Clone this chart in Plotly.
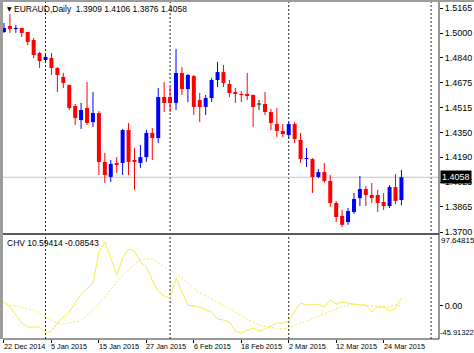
import plotly.graph_objects as go

# ---------------- data ----------------
opens = [1.5008, 1.5047, 1.5028, 1.5034, 1.5008, 1.4956, 1.4871, 1.4825, 1.4838, 1.4773,
         1.4714, 1.4661, 1.4524, 1.4432, 1.4511, 1.4419, 1.4478, 1.4158, 1.4060, 1.4151,
         1.4151, 1.4367, 1.4171, 1.4151, 1.4190, 1.4348, 1.4315, 1.4583, 1.4583, 1.4544,
         1.4740, 1.4635, 1.4720, 1.4563, 1.4518, 1.4576, 1.4694, 1.4746, 1.4668, 1.4616,
         1.4603, 1.4603, 1.4596, 1.4537, 1.4537, 1.4485, 1.4406, 1.4361, 1.4334, 1.4406,
         1.4302, 1.4177, 1.4177, 1.4060, 1.4092, 1.4034, 1.3890, 1.3805, 1.3765, 1.3831,
         1.3922, 1.3981, 1.3942, 1.3942, 1.3896, 1.3870, 1.3994, 1.3909]
highs = [1.5067, 1.5126, 1.5054, 1.5036, 1.5010, 1.4969, 1.4877, 1.4871, 1.4871, 1.4779,
         1.4740, 1.4664, 1.4537, 1.4544, 1.4681, 1.4616, 1.4491, 1.4217, 1.4171, 1.4190,
         1.4374, 1.4413, 1.4249, 1.4269, 1.4367, 1.4380, 1.4642, 1.4681, 1.4648, 1.4897,
         1.4779, 1.4733, 1.4727, 1.4609, 1.4596, 1.4707, 1.4812, 1.4792, 1.4694, 1.4642,
         1.4622, 1.4740, 1.4600, 1.4563, 1.4616, 1.4504, 1.4511, 1.4406, 1.4419, 1.4419,
         1.4348, 1.4249, 1.4184, 1.4112, 1.4151, 1.4073, 1.3903, 1.3844, 1.3857, 1.3955,
         1.4066, 1.4001, 1.4021, 1.3975, 1.3955, 1.4007, 1.4079, 1.4106]
lows = [1.5002, 1.5002, 1.5002, 1.4975, 1.4923, 1.4838, 1.4773, 1.4812, 1.4727, 1.4616,
        1.4642, 1.4498, 1.4400, 1.4374, 1.4400, 1.4387, 1.4073, 1.4021, 1.4027, 1.4086,
        1.4073, 1.4073, 1.3975, 1.4119, 1.4158, 1.4171, 1.4282, 1.4485, 1.4485, 1.4498,
        1.4596, 1.4550, 1.4465, 1.4419, 1.4465, 1.4550, 1.4648, 1.4648, 1.4583, 1.4544,
        1.4550, 1.4563, 1.4387, 1.4498, 1.4465, 1.4367, 1.4321, 1.4321, 1.4315, 1.4282,
        1.4151, 1.4125, 1.3955, 1.4053, 1.4021, 1.3864, 1.3765, 1.3733, 1.3747, 1.3818,
        1.3870, 1.3870, 1.3890, 1.3831, 1.3844, 1.3857, 1.3883, 1.3876]
closes = [1.5034, 1.5028, 1.5034, 1.5002, 1.4943, 1.4858, 1.4818, 1.4845, 1.4773, 1.4727,
          1.4675, 1.4511, 1.4446, 1.4498, 1.4413, 1.4478, 1.4158, 1.4073, 1.4145, 1.4138,
          1.4367, 1.4158, 1.4158, 1.4190, 1.4348, 1.4315, 1.4583, 1.4544, 1.4544, 1.4740,
          1.4635, 1.4727, 1.4518, 1.4518, 1.4576, 1.4694, 1.4746, 1.4675, 1.4609, 1.4603,
          1.4596, 1.4589, 1.4518, 1.4537, 1.4485, 1.4413, 1.4361, 1.4341, 1.4406, 1.4308,
          1.4177, 1.4184, 1.4060, 1.4092, 1.4034, 1.3890, 1.3798, 1.3747, 1.3837, 1.3916,
          1.3981, 1.3942, 1.3922, 1.3890, 1.3870, 1.3994, 1.3903, 1.4058]

# CHV indicator values for bars -1 .. 67
chv_main = [6.5, 5.1, -1.8, -12.8, -23.9, -29.4, -29.4, -29.4, -37.7, -34.9,
            -23.9, -16.8, -8.7, 3.7, 16.2, 23.1, 31.3, 74.0, 87.9, 65.8,
            42.4, 65.8, 78.3, 75.5, 60.3, 53.4, 35.5, 20.3, 13.4, 10.6,
            38.2, 18.9, 1.0, -0.4, -1.8, -5.9, -8.7, -18.4, -19.7, -22.5,
            -34.9, -37.7, -33.5, -30.8, -34.9, -32.2, -28.0, -23.9, -23.9, -21.1,
            -7.3, 3.7, 1.0, 1.0, 2.3, -1.8, 7.9, 2.3, 5.1, 3.7,
            2.3, 1.0, 1.0, -8.7, -1.8, -1.8, -7.3, -3.2, 10.59414]
chv_signal = [5.1, 3.7, 1.0, -0.4, -1.8, -4.6, -5.9, -10.1, -15.6, -19.7,
              -23.9, -25.3, -23.9, -22.5, -20.7, -13.4, -5.9, 2.5, 12.8, 23.2,
              32.4, 41.4, 49.7, 57.3, 63.5, 64.9, 64.5, 58.9, 53.4, 48.7,
              44.2, 38.2, 31.3, 24.4, 17.8, 13.7, 9.5, 5.4, 1.0, -3.6,
              -8.7, -13.9, -18.8, -22.9, -26.8, -28.4, -30.0, -31.2, -31.9, -30.8,
              -27.5, -24.3, -21.1, -17.7, -14.2, -10.9, -7.5, -4.0, -1.2, 1.2,
              1.9, 1.4, 0.7, 0.1, -0.4, -1.1, -1.8, 1.0, -0.08543]
chv_first_bar = -1

price_ticks = [1.5165, 1.5000, 1.4840, 1.4675, 1.4515, 1.4350, 1.4190, 1.4025, 1.3865, 1.3700]
sub_max_label = 97.64815
sub_min_label = -45.91322
sub_zero_label = 0.0

date_tick_idx = [0, 8, 16, 24, 32, 40, 48, 56, 64]
date_labels = ["22 Dec 2014", "5 Jan 2015", "15 Jan 2015", "27 Jan 2015", "6 Feb 2015",
               "18 Feb 2015", "2 Mar 2015", "12 Mar 2015", "24 Mar 2015"]
separator_idx = [7, 28, 48, 72]

symbol_title = "EURAUD,Daily"
last_price = 1.4058

# ---------------- style ----------------
FONT = "Liberation Sans Narrow, Liberation Sans, Arial, sans-serif"
BULL = "#0000ff"
BEAR = "#ff0000"
DOJI = "#202020"
YEL = "#f2ec4a"
MIN_BODY = 0.0007

W, H = 474, 353
ML, MR, MT, MB = 3, 30, 2, 14
plot_h = H - MT - MB
main_bottom = (H - MB - 233) / plot_h
sub_top = (H - MB - 235) / plot_h

n = len(opens)
chv_x = list(range(chv_first_bar, chv_first_bar + len(chv_main)))


def seg_xy(ids, lo, hi):
    xs, ys = [], []
    for i in ids:
        xs += [i, i, None]
        ys += [lo[i], hi[i], None]
    return xs, ys


fig = go.Figure()

groups = [
    ([i for i in range(n) if closes[i] > opens[i]], BULL),
    ([i for i in range(n) if closes[i] < opens[i]], BEAR),
    ([i for i in range(n) if closes[i] == opens[i]], DOJI),
]

body_lo = []
body_hi = []
for o, c in zip(opens, closes):
    lo_, hi_ = min(o, c), max(o, c)
    if hi_ - lo_ < MIN_BODY:
        mid = (lo_ + hi_) / 2
        lo_, hi_ = mid - MIN_BODY / 2, mid + MIN_BODY / 2
    body_lo.append(lo_)
    body_hi.append(hi_)

# wicks
for ids, col in groups:
    xs, ys = seg_xy(ids, lows, highs)
    fig.add_trace(go.Scatter(x=xs, y=ys, mode="lines", line=dict(color=col, width=1),
                             xaxis="x", yaxis="y", showlegend=False, hoverinfo="skip"))
# bodies
for ids, col in groups:
    xs, ys = seg_xy(ids, body_lo, body_hi)
    fig.add_trace(go.Scatter(x=xs, y=ys, mode="lines", line=dict(color=col, width=4),
                             xaxis="x", yaxis="y", showlegend=False, hoverinfo="skip"))

# indicator
fig.add_trace(go.Scatter(x=chv_x, y=chv_signal, mode="lines",
                         line=dict(color=YEL, width=1, dash="2px,2px"),
                         xaxis="x", yaxis="y2", showlegend=False, hoverinfo="skip"))
fig.add_trace(go.Scatter(x=chv_x, y=chv_main, mode="lines",
                         line=dict(color=YEL, width=1),
                         xaxis="x", yaxis="y2", showlegend=False, hoverinfo="skip"))

px_per_bar = 6
x0 = -1 / px_per_bar
x1 = x0 + (W - ML - MR) / px_per_bar

main_top_px, main_bot_px = MT, 233
y_hi_px, y_lo_px = 8, 232
ppu = (y_lo_px - y_hi_px) / (price_ticks[0] - price_ticks[-1])
y_top = price_ticks[0] + (y_hi_px - main_top_px) / ppu
y_bot = price_ticks[-1] - (main_bot_px - y_lo_px) / ppu

fig.update_layout(
    width=W, height=H,
    margin=dict(l=ML, r=MR, t=MT, b=MB, pad=0),
    paper_bgcolor="white", plot_bgcolor="white",
    showlegend=False,
    font=dict(family=FONT, size=9, color="black"),
    xaxis=dict(domain=[0, 1], anchor="y2", range=[x0, x1], showgrid=False, zeroline=False,
               tickvals=date_tick_idx, ticks="outside", ticklen=3, tickcolor="black",
               showticklabels=False, showline=False, fixedrange=True),
    yaxis=dict(domain=[main_bottom, 1], anchor="x", side="right", range=[y_bot, y_top],
               tickvals=price_ticks, ticktext=[f"{v:.4f}" for v in price_ticks],
               ticks="outside", ticklen=3, tickcolor="black", showgrid=False, zeroline=False,
               showline=False, tickfont=dict(family=FONT, size=9, color="black")),
    yaxis2=dict(domain=[0, sub_top], anchor="x", side="right",
                range=[sub_min_label, sub_max_label],
                tickvals=[sub_zero_label], ticktext=[f"{sub_zero_label:.2f}"],
                ticks="outside", ticklen=3, tickcolor="black", showgrid=False, zeroline=False,
                showline=False, tickfont=dict(family=FONT, size=9, color="black")),
)

shapes = []
# period separators
for s in separator_idx:
    shapes.append(dict(type="line", xref="x", yref="paper", x0=s, x1=s, y0=0, y1=1,
                       line=dict(color="#222222", width=1, dash="2px,2px"), layer="below"))
# current price line
shapes.append(dict(type="line", xref="paper", yref="y", x0=0, x1=1, y0=last_price, y1=last_price,
                   line=dict(color="#c4c4c4", width=1), layer="below"))
# panel separator
shapes.append(dict(type="rect", xref="paper", yref="paper", x0=0, x1=1, y0=sub_top, y1=main_bottom,
                   fillcolor="#5a5a5a", line=dict(width=0), layer="above"))
# bottom line
shapes.append(dict(type="line", xref="paper", yref="paper", x0=0, x1=1, y0=0, y1=0,
                   line=dict(color="#303030", width=1), layer="above"))
# right axis line
shapes.append(dict(type="line", xref="paper", yref="paper", x0=1, x1=1, y0=0, y1=1,
                   line=dict(color="#303030", width=1), layer="above"))
# window frame: left and top grey edges
shapes.append(dict(type="rect", xref="paper", yref="paper", xsizemode="pixel", xanchor=0,
                   x0=-ML, x1=0, y0=0, y1=1, fillcolor="#9c9c9c", line=dict(width=0), layer="above"))
shapes.append(dict(type="rect", xref="paper", yref="paper", xsizemode="pixel", xanchor=0,
                   ysizemode="pixel", yanchor=1, x0=-ML, x1=W, y0=0, y1=MT,
                   fillcolor="#9c9c9c", line=dict(width=0), layer="above"))
fig.update_layout(shapes=shapes)

ann = []
ann.append(dict(xref="paper", yref="paper", x=0, y=1, xanchor="left", yanchor="top",
                xshift=2, yshift=-1, text="▼", showarrow=False,
                font=dict(family="DejaVu Sans", size=6, color="black")))
ann.append(dict(xref="paper", yref="paper", x=0, y=1, xanchor="left", yanchor="top",
                xshift=9, yshift=0, showarrow=False,
                text=f"{symbol_title}  {opens[-1]:.4f} {highs[-1]:.4f} {lows[-1]:.4f} {closes[-1]:.4f}",
                font=dict(family=FONT, size=8.5, color="black")))
ann.append(dict(xref="paper", yref="paper", x=0, y=sub_top, xanchor="left", yanchor="top",
                xshift=2, yshift=-1, showarrow=False,
                text=f"CHV {chv_main[-1]:.5f} {chv_signal[-1]:.5f}",
                font=dict(family=FONT, size=8.5, color="black")))
ann.append(dict(xref="paper", yref="y", x=1, y=last_price, xanchor="left", yanchor="middle",
                xshift=1, showarrow=False, text=f"{last_price:.4f}", bgcolor="black", borderpad=1,
                font=dict(family=FONT, size=9, color="white")))
ann.append(dict(xref="paper", yref="y2", x=1, y=sub_max_label, xanchor="left", yanchor="top",
                xshift=0, yshift=1, showarrow=False, text=f"{sub_max_label:.5f}",
                font=dict(family=FONT, size=8, color="black")))
ann.append(dict(xref="paper", yref="y2", x=1, y=sub_min_label, xanchor="left", yanchor="bottom",
                xshift=-1, yshift=0, showarrow=False, text=f"{sub_min_label:.5f}",
                font=dict(family=FONT, size=7.5, color="black")))
for xi, lab in zip(date_tick_idx, date_labels):
    ann.append(dict(xref="x", yref="paper", x=xi, y=0, xanchor="left", yanchor="top",
                    xshift=-2, yshift=-1, showarrow=False, text=lab,
                    font=dict(family=FONT, size=7.3, color="black")))
fig.update_layout(annotations=ann)

fig.write_html("out.html", config={"displayModeBar": False})
